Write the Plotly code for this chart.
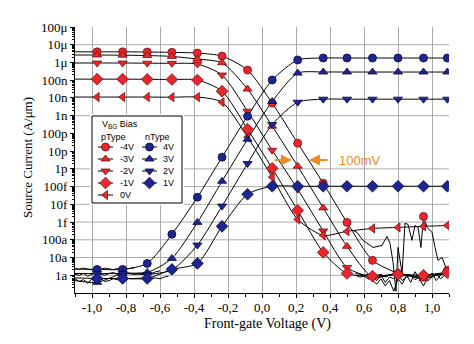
import numpy as np
import plotly.graph_objects as go

# ---------------------------------------------------------------- data
# Front-gate voltage of the marked measurement points (V)
VG_MARK = [-0.97, -0.82, -0.675, -0.53, -0.38, -0.235, -0.085, 0.06, 0.21,
           0.36, 0.50, 0.65, 0.80, 0.95, 1.09]
VG_MIN, VG_MAX = -1.1, 1.1
VG_LINE = [VG_MIN] + VG_MARK + [VG_MAX]

# log10 of the source current (A/um) along VG_LINE (edges + marked points)
p_m4 = [-5.40, -5.40, -5.40, -5.41, -5.43, -5.47, -5.64, -6.43, -8.29, -10.55,
        -12.81, -15.02, -17.16, -17.90, -14.68, -17.73, -17.60]
p_m3 = [-5.58, -5.58, -5.59, -5.61, -5.66, -5.81, -6.02, -7.50, -9.59, -11.85,
        -14.20, -16.37, -18.10, -17.90, -18.20, -17.84, -18.00]
p_m2 = [-6.03, -6.03, -6.03, -6.04, -6.05, -6.09, -6.71, -8.75, -10.95, -13.15,
        -15.50, -17.56, -18.10, -17.95, -18.10, -17.90, -17.90]
p_m1 = [-6.94, -6.94, -6.94, -6.95, -6.96, -6.99, -7.62, -9.76, -11.97, -14.34,
        -16.71, -17.90, -18.05, -17.95, -18.00, -17.85, -17.90]
p_0 = [-7.95, -7.95, -7.95, -7.95, -7.96, -7.95, -8.24, -10.21, -12.47, -14.85,
       -15.75, -15.52, -15.36, -15.30, -15.24, -15.19, -15.18]

n_4 = [-17.65, -17.67, -17.67, -17.33, -15.69, -13.60, -11.34, -9.03, -6.99, -5.86,
       -5.75, -5.75, -5.75, -5.75, -5.75, -5.75, -5.75]
n_3 = [-18.30, -18.40, -17.90, -17.84, -17.05, -15.02, -12.70, -10.33, -8.20, -6.60,
       -6.54, -6.54, -6.54, -6.54, -6.54, -6.54, -6.54]
n_2 = [-17.90, -17.90, -17.90, -17.95, -17.70, -16.30, -14.10, -11.70, -9.50, -8.24,
       -8.07, -8.07, -8.07, -8.07, -8.07, -8.07, -8.07]
n_1 = [-18.15, -18.18, -18.18, -18.18, -17.67, -17.33, -15.24, -13.43, -12.98, -12.98,
       -12.98, -12.98, -12.98, -12.98, -12.98, -12.98, -12.98]

# noise floor of the nType curves (negative front-gate side)
VG_FLOOR_L = [-1.1, -1.075, -1.05, -1.025, -1.0, -0.975, -0.95, -0.925, -0.9, -0.875,
              -0.85, -0.825, -0.8, -0.775, -0.75, -0.725, -0.7, -0.675, -0.65,
              -0.625, -0.6, -0.575, -0.55]
floor_l1 = [-17.62, -17.66, -17.60, -17.65, -17.70, -17.62, -17.66, -17.60, -17.64,
            -17.68, -17.62, -17.60, -17.65, -17.62, -17.58]
floor_l2 = [-17.95, -18.00, -17.90, -18.05, -17.95, -17.85, -17.95, -18.00, -17.90,
            -17.85, -17.95, -17.90, -17.85, -17.90, -17.95, -17.88, -17.90, -17.85,
            -17.90, -17.80, -17.75]
floor_l3 = [-18.20, -18.35, -18.25, -18.45, -18.20, -18.40, -18.15, -18.35, -18.30,
            -18.20, -18.25, -18.20, -18.15, -18.20, -18.18, -18.20, -18.15, -18.20,
            -18.18, -18.15, -18.20, -18.10, -18.05]

# noise floor of the pType curves (positive front-gate side)
VG_FLOOR_R = [0.55, 0.575, 0.60, 0.625, 0.65, 0.675, 0.70, 0.725, 0.75, 0.775, 0.80,
              0.825, 0.85, 0.875, 0.90, 0.925, 0.95, 0.975, 1.00, 1.025, 1.05, 1.075, 1.10]
floor_r1 = [-17.90, -17.95, -18.00, -17.95, -18.05, -18.00, -17.95, -18.10, -18.00,
            -17.90, -18.00, -18.05, -17.95, -18.00, -18.10, -17.95, -18.00, -18.05,
            -17.90, -18.00, -17.95, -17.85, -17.90]
floor_r2 = [-18.00, -18.10, -18.05, -18.20, -18.10, -18.30, -18.00, -18.40, -18.10,
            -18.20, -17.95, -18.30, -18.10, -18.00, -18.25, -18.10, -18.00, -18.30,
            -18.10, -17.90, -18.20, -18.00, -17.95]
floor_r3 = [-18.10, -18.30, -18.50, -18.20, -18.60, -18.30, -18.90, -18.20, -18.50,
            -18.00, -18.40, -17.80, -18.20, -18.60, -18.10, -17.90, -18.30, -18.00,
            -17.70, -18.00]
VG_SPIKE = [0.53, 0.559, 0.594, 0.653, 0.706, 0.735, 0.753, 0.771, 0.788, 0.80, 0.824,
            0.841, 0.859, 0.882, 0.90, 0.918, 0.935, 0.95, 0.971, 1.0, 1.018, 1.035,
            1.059, 1.088, 1.10]
spike_r = [-15.45, -15.58, -16.03, -16.43, -16.32, -15.81, -16.20, -17.28, -18.90,
           -16.43, -17.90, -15.07, -15.13, -16.03, -15.19, -15.30, -16.43, -14.68,
           -15.30, -15.58, -16.43, -17.16, -16.99, -17.73, -17.60]

# horizontal grid decades, axis ticks
GRID_DECADES = [-5, -9, -12, -13, -14, -15, -16, -17, -18]
Y_TICK_EXP = list(range(-18, -3))
Y_TICK_TEXT = ["1a", "10a", "100a", "1f", "10f", "100f", "1p", "10p", "100p",
               "1n", "10n", "100n", "1\u03bc", "10\u03bc", "100\u03bc"]
X_TICKS = [-1.0, -0.8, -0.6, -0.4, -0.2, 0.0, 0.2, 0.4, 0.6, 0.8, 1.0]
X_TICK_TEXT = ["-1,0", "-0,8", "-0,6", "-0,4", "-0,2", "0,0", "0,2", "0,4", "0,6",
               "0,8", "1,0"]

P_LABELS = ["-4V", "-3V", "-2V", "-1V", "0V"]
N_LABELS = ["4V", "3V", "2V", "1V"]

# ---------------------------------------------------------------- styling
W, H = 474, 344
ML, MR, MT, MB = 75, 25, 27, 51
RED, RED_EDGE = "#e8262c", "#7a1010"
BLUE, BLUE_EDGE = "#1c2590", "#0a0d45"
GRID = "#ababab"
ORANGE = "#f08a1c"
SERIF = "Liberation Serif"
SANS = "Liberation Sans"
P_SYMBOLS = ["circle", "triangle-up", "triangle-down", "diamond", "triangle-left"]
N_SYMBOLS = ["circle", "triangle-up", "triangle-down", "diamond"]
SYMBOL_SIZE = {"circle": 8, "triangle-up": 8, "triangle-down": 8, "diamond": 9,
               "triangle-left": 8}

PW, PH = W - ML - MR, H - MT - MB


def px_to_paper_x(px):
    return (px - ML) / PW


def px_to_paper_y(py):
    return (H - MB - py) / PH


def pow10(vals):
    return np.power(10.0, np.asarray(vals, dtype=float))


fig = go.Figure()

# grid lines at the chosen decades
for e in GRID_DECADES:
    fig.add_trace(go.Scatter(x=[VG_MIN, VG_MAX], y=pow10([e, e]), mode="lines",
                             line=dict(color=GRID, width=1), hoverinfo="skip",
                             showlegend=False))

# noise floors
noise = [(VG_FLOOR_L[:len(floor_l1)], floor_l1), (VG_FLOOR_L[:len(floor_l2)], floor_l2),
         (VG_FLOOR_L, floor_l3), (VG_FLOOR_R, floor_r1), (VG_FLOOR_R, floor_r2),
         (VG_FLOOR_R[3:], floor_r3), (VG_SPIKE, spike_r)]
for xs, ys in noise:
    fig.add_trace(go.Scatter(x=xs, y=pow10(ys), mode="lines",
                             line=dict(color="black", width=1), showlegend=False))

p_series = [p_m4, p_m3, p_m2, p_m1, p_0]
n_series = [n_4, n_3, n_2, n_1]
p_line_end = [14, 17, 17, 17, 17]

for vals, end in zip(p_series, p_line_end):
    fig.add_trace(go.Scatter(x=VG_LINE[:end], y=pow10(vals[:end]), mode="lines",
                             line=dict(color="black", width=1, shape="spline",
                                       smoothing=0.7), showlegend=False))
for vals in n_series:
    fig.add_trace(go.Scatter(x=VG_LINE, y=pow10(vals), mode="lines",
                             line=dict(color="black", width=1, shape="spline",
                                       smoothing=0.7), showlegend=False))

for vals, sym, name in zip(p_series, P_SYMBOLS, P_LABELS):
    fig.add_trace(go.Scatter(x=VG_MARK, y=pow10(vals[1:-1]), mode="markers", name=name,
                             marker=dict(symbol=sym, size=SYMBOL_SIZE[sym], color=RED,
                                         line=dict(color=RED_EDGE, width=0.8)),
                             showlegend=False))
for vals, sym, name in zip(n_series, N_SYMBOLS, N_LABELS):
    fig.add_trace(go.Scatter(x=VG_MARK, y=pow10(vals[1:-1]), mode="markers", name=name,
                             marker=dict(symbol=sym, size=SYMBOL_SIZE[sym], color=BLUE,
                                         line=dict(color=BLUE_EDGE, width=0.8)),
                             showlegend=False))

# ---------------------------------------------------------------- key box
BOX = dict(x0=92, x1=182, y0=116, y1=203)
PAD = 2
KEY_X = [BOX["x0"] - PAD, BOX["x1"] + PAD]
KEY_Y = [BOX["y1"] + PAD, BOX["y0"] - PAD]
ROW_Y = [147, 159, 171, 183, 195]
P_SAMPLE = (98, 113)
N_SAMPLE = (142, 157)

fig.add_trace(go.Scatter(x=[BOX["x0"], BOX["x1"], BOX["x1"], BOX["x0"], BOX["x0"]],
                         y=[BOX["y0"], BOX["y0"], BOX["y1"], BOX["y1"], BOX["y0"]],
                         mode="lines", fill="toself", fillcolor="white",
                         line=dict(color="black", width=1), xaxis="x2", yaxis="y2",
                         showlegend=False, hoverinfo="skip"))

seg_x, seg_y = [], []
for i, y in enumerate(ROW_Y):
    seg_x += [P_SAMPLE[0], P_SAMPLE[1], None]
    seg_y += [y, y, None]
    if i < len(N_LABELS):
        seg_x += [N_SAMPLE[0], N_SAMPLE[1], None]
        seg_y += [y, y, None]
fig.add_trace(go.Scatter(x=seg_x, y=seg_y, mode="lines", line=dict(color="black", width=1),
                         xaxis="x2", yaxis="y2", showlegend=False, hoverinfo="skip"))

for i, sym in enumerate(P_SYMBOLS):
    fig.add_trace(go.Scatter(x=[(P_SAMPLE[0] + P_SAMPLE[1]) / 2], y=[ROW_Y[i]], mode="markers",
                             marker=dict(symbol=sym, size=SYMBOL_SIZE[sym], color=RED,
                                         line=dict(color=RED_EDGE, width=0.8)),
                             xaxis="x2", yaxis="y2", showlegend=False, hoverinfo="skip"))
for i, sym in enumerate(N_SYMBOLS):
    fig.add_trace(go.Scatter(x=[(N_SAMPLE[0] + N_SAMPLE[1]) / 2], y=[ROW_Y[i]], mode="markers",
                             marker=dict(symbol=sym, size=SYMBOL_SIZE[sym], color=BLUE,
                                         line=dict(color=BLUE_EDGE, width=0.8)),
                             xaxis="x2", yaxis="y2", showlegend=False, hoverinfo="skip"))

key_font = dict(family=SANS, size=9, color="black")
annotations = [
    dict(x=100, y=125, text="V<sub>BG</sub> Bias", xref="x2", yref="y2", showarrow=False,
         xanchor="left", yanchor="middle", font=key_font),
    dict(x=99, y=137, text="pType", xref="x2", yref="y2", showarrow=False,
         xanchor="left", yanchor="middle", font=key_font),
    dict(x=143, y=137, text="nType", xref="x2", yref="y2", showarrow=False,
         xanchor="left", yanchor="middle", font=key_font),
]
for i, lab in enumerate(P_LABELS):
    annotations.append(dict(x=P_SAMPLE[1] + 5, y=ROW_Y[i], text=lab, xref="x2", yref="y2",
                            showarrow=False, xanchor="left", yanchor="middle", font=key_font))
for i, lab in enumerate(N_LABELS):
    annotations.append(dict(x=N_SAMPLE[1] + 4, y=ROW_Y[i], text=lab, xref="x2", yref="y2",
                            showarrow=False, xanchor="left", yanchor="middle", font=key_font))

# 100 mV shift marker
SHIFT_Y = -11.5
annotations += [
    dict(x=0.176, y=SHIFT_Y, ax=0.065, ay=SHIFT_Y, xref="x", yref="y", axref="x", ayref="y",
         showarrow=True, arrowhead=2, arrowsize=1.1, arrowwidth=2, arrowcolor=ORANGE, text=""),
    dict(x=0.276, y=SHIFT_Y, ax=0.394, ay=SHIFT_Y, xref="x", yref="y", axref="x", ayref="y",
         showarrow=True, arrowhead=2, arrowsize=1.1, arrowwidth=2, arrowcolor=ORANGE, text=""),
    dict(x=0.44, y=SHIFT_Y, xref="x", yref="y", text="100mV", showarrow=False,
         xanchor="left", yanchor="middle", font=dict(family=SANS, size=13, color=ORANGE)),
]

# axis titles
annotations += [
    dict(x=px_to_paper_x(267), y=px_to_paper_y(324), xref="paper", yref="paper",
         text="Front-gate Voltage (V)", showarrow=False, xanchor="center", yanchor="middle",
         font=dict(family=SERIF, size=14, color="black")),
    dict(x=px_to_paper_x(27), y=px_to_paper_y(157), xref="paper", yref="paper",
         text="Source Current (A/\u03bcm)", showarrow=False, textangle=-90,
         xanchor="center", yanchor="middle", font=dict(family=SERIF, size=13, color="black")),
]

y_minor = [k * 10.0 ** e for e in range(-19, -4) for k in range(2, 10)]
x_minor = [round(-1.1 + 0.1 * i, 2) for i in range(23)]

fig.update_layout(
    width=W, height=H, margin=dict(l=ML, r=MR, t=MT, b=MB),
    paper_bgcolor="white", plot_bgcolor="white", showlegend=False,
    annotations=annotations,
    xaxis=dict(range=[VG_MIN, VG_MAX], tickvals=X_TICKS, ticktext=X_TICK_TEXT,
               ticks="outside", ticklen=4, tickcolor="black", showline=True,
               linecolor="black", linewidth=1, showgrid=True, gridcolor=GRID, gridwidth=1,
               zeroline=False, tickfont=dict(family=SERIF, size=13, color="black"),
               ticklabelstandoff=-2,
               minor=dict(tickvals=x_minor, ticks="outside", ticklen=3, tickcolor="black",
                          showgrid=False)),
    yaxis=dict(type="log", range=[-19, -4], tickvals=list(pow10(Y_TICK_EXP)),
               ticktext=Y_TICK_TEXT, ticks="outside", ticklen=4, tickcolor="black",
               showline=True, linecolor="black", linewidth=1, showgrid=False,
               zeroline=False, tickfont=dict(family=SERIF, size=13, color="black"),
               minor=dict(tickvals=y_minor, ticks="outside", ticklen=2, tickcolor="black",
                          showgrid=False)),
    xaxis2=dict(domain=[px_to_paper_x(KEY_X[0]), px_to_paper_x(KEY_X[1])], range=KEY_X,
                visible=False, anchor="y2", fixedrange=True),
    yaxis2=dict(domain=[px_to_paper_y(KEY_Y[0]), px_to_paper_y(KEY_Y[1])], range=KEY_Y,
                visible=False, anchor="x2", fixedrange=True),
)

fig.write_html("out.html")
